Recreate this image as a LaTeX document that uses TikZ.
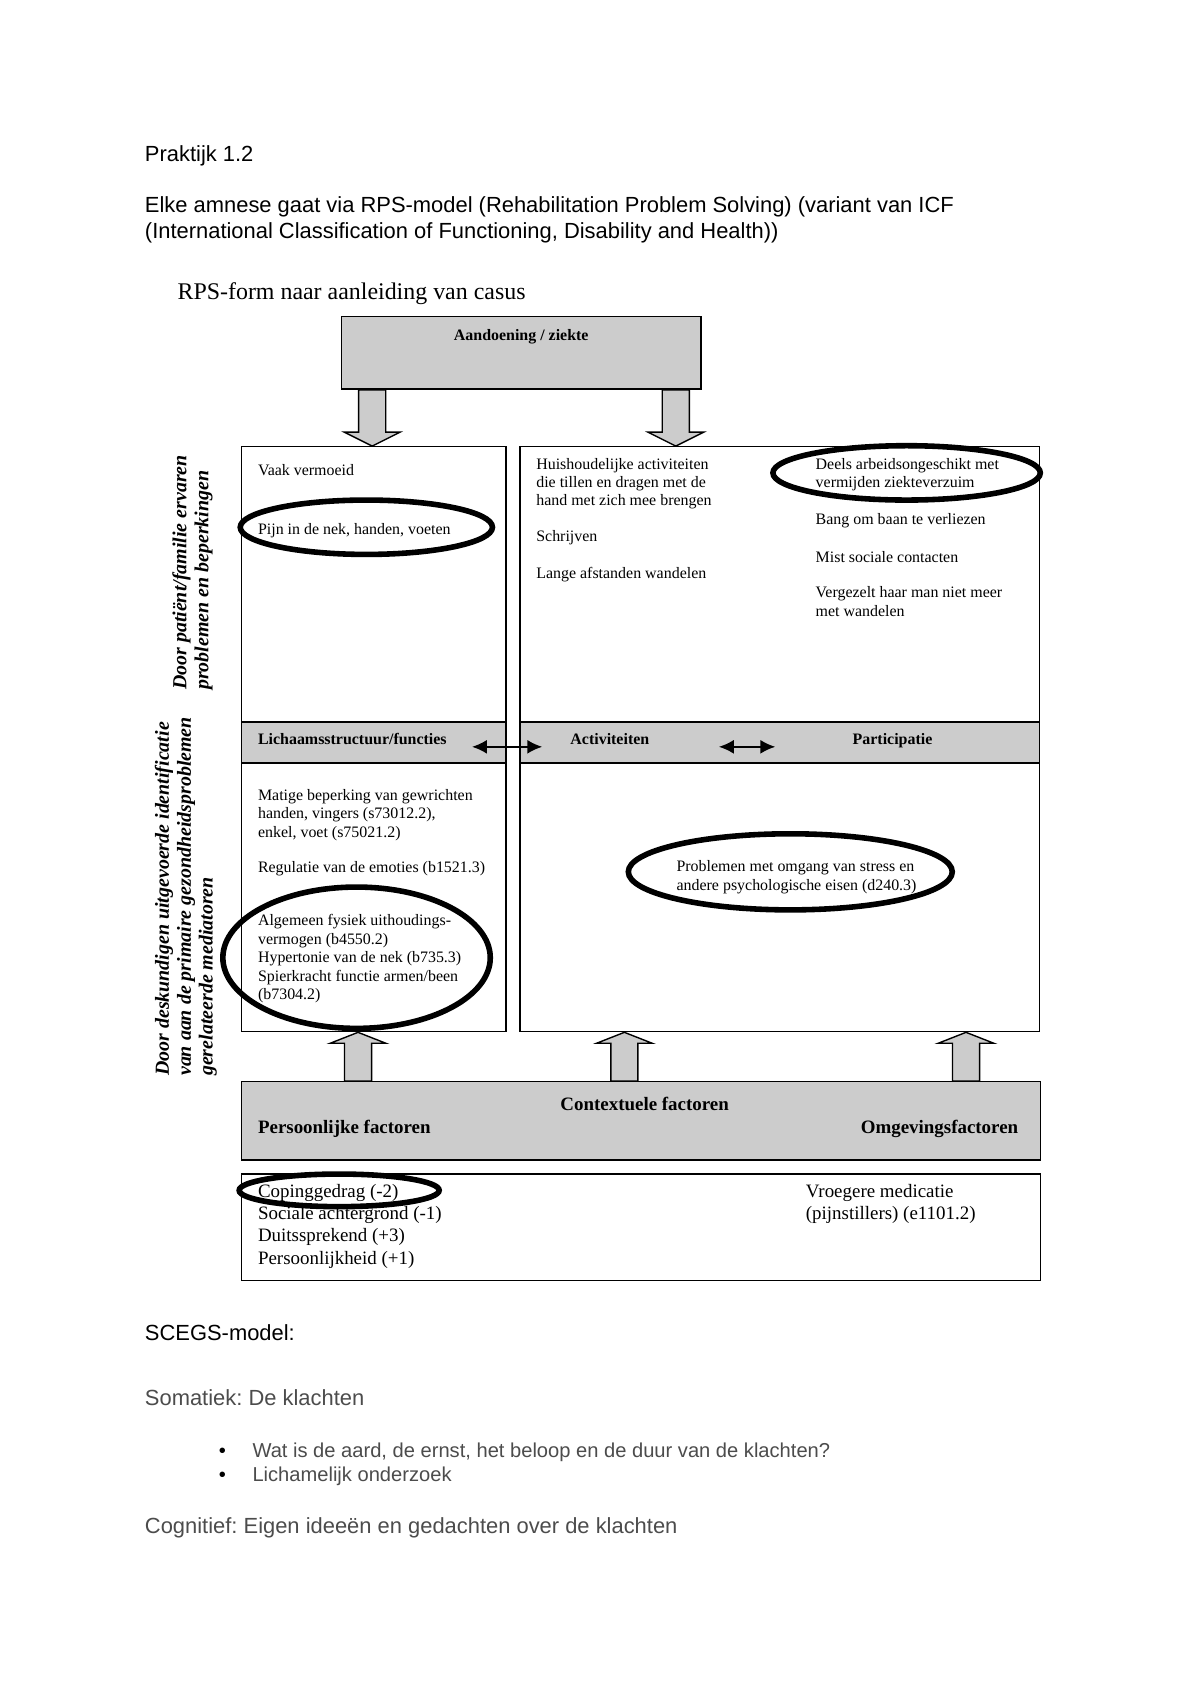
\documentclass[tikz,border=0pt]{standalone}
\usepackage{fontspec}
\setmainfont{Liberation Serif}
\newfontfamily\arialfont{Liberation Sans}
\usetikzlibrary{calc,fit,arrows.meta}
\definecolor{bodygray}{gray}{0.3}
\frenchspacing

\tikzset{
  box/.style={draw, line width=0.7pt, inner sep=0pt},
  greybox/.style={box, fill=black!20},
  ring/.style={line width=2.8pt},
  fatarrow/.style={draw, line width=0.7pt, fill=black!20},
  dblarrow/.style={line width=1pt, {Latex[length=7.5pt,width=7pt]}-{Latex[length=7.5pt,width=7pt]}},
  cell/.style={font=\fontsize{8}{9.24}\selectfont, align=left, anchor=west, inner sep=0pt},
  cellhead/.style={font=\fontsize{8}{9.24}\selectfont\bfseries, inner sep=0pt, anchor=base},
  ctx/.style={font=\fontsize{9.5}{11.25}\selectfont, align=left, anchor=west, inner sep=0pt},
  ctxhead/.style={font=\fontsize{9.5}{11.25}\selectfont\bfseries, inner sep=0pt, anchor=base},
  sidelabel/.style={font=\fontsize{10}{11}\selectfont\bfseries\itshape, align=left, rotate=90, anchor=west, inner sep=0pt},
  doc/.style={font=\arialfont\fontsize{11}{13}\selectfont, align=left, anchor=west, inner sep=0pt},
}

% fat block arrow from #2 (tail) to #3 (tip), #1 = head length
\newcommand\fatarrow[3][7pt]{%
  \path #2 coordinate (fat) #3 coordinate (fah);
  \coordinate (fab) at ($(fah)!#1!(fat)$);
  \draw[fatarrow] ($(fat)!6.8pt!90:(fah)$) -- ($(fab)!6.8pt!90:(fah)$)
    -- ($(fab)!14pt!90:(fah)$) -- (fah) -- ($(fab)!14pt!-90:(fah)$)
    -- ($(fab)!6.8pt!-90:(fah)$) -- ($(fat)!6.8pt!-90:(fah)$) -- cycle;}

\begin{document}
\begin{tikzpicture}[x=0.5435bp, y=-0.5435bp]
  \fill[white] (0,0) rectangle (1104,1562);
  \useasboundingbox (0,0) rectangle (1104,1562);

  % page text
  \node[doc] (kop) at (133,143) {Praktijk 1.2};
  \node[doc] (intro) at (133,202) {Elke amnese gaat via RPS-model (Rehabilitation Problem Solving) (variant van ICF\\(International Classification of Functioning, Disability and Health))};
  \node[anchor=west, inner sep=0pt, font=\fontsize{12}{14}\selectfont] (rpstitel) at (163,270) {RPS-form naar aanleiding van casus};

  % boxes
  \node[greybox, fit={(314,291) (645,358)}] (ziekte) {};
  \node[cellhead] (ziektetxt) at ($(ziekte.north)+(0,23)$) {Aandoening / ziekte};

  \node[box, fit={(222,411) (465.5,664)}] (lichtop) {};
  \node[greybox, fit={(222,664) (465.5,702)}] (lichband) {};
  \node[box, fit={(222,702) (465.5,949)}] (lichbot) {};
  \node[box, fit={(478.5,411) (956,664)}] (acttop) {};
  \node[greybox, fit={(478.5,664) (956,702)}] (actband) {};
  \node[box, fit={(478.5,702) (956,949)}] (actbot) {};

  \node[greybox, fit={(222,995) (957,1067)}] (context) {};
  \node[box, fit={(222,1080) (957,1178)}] (factoren) {};

  % side labels
  \node[sidelabel] (patient) at (177,635) {Door patiënt/familie ervaren\\problemen en beperkingen};
  \node[sidelabel] (deskundig) at (171,990) {Door deskundigen uitgevoerde identificatie\\van aan de primaire gezondheidsproblemen\\gerelateerde mediatoren};

  % upper cells
  \node[cell] (moe) at (237,432) {Vaak vermoeid};
  \node[cell] (pijn) at (237,488) {Pijn in de nek, handen, voeten};
  \node[cell] (huis) at (493,445) {Huishoudelijke activiteiten\\die tillen en dragen met de\\hand met zich mee brengen};
  \node[cell] (schrijf) at (493,495) {Schrijven};
  \node[cell] (wandel) at (493,529) {Lange afstanden wandelen};
  \node[cell] (arbeid) at (750,436.5) {Deels arbeidsongeschikt met\\vermijden ziekteverzuim};
  \node[cell] (baan) at (750,479) {Bang om baan te verliezen};
  \node[cell] (sociaal) at (750,512) {Mist sociale contacten};
  \node[cell] (man) at (750,553.5) {Vergezelt haar man niet meer\\met wandelen};

  % band
  \node[cellhead, anchor=base west] (lichaam) at (237,685) {Lichaamsstructuur/functies};
  \node[cellhead] (activ) at (561,685) {Activiteiten};
  \node[cellhead] (partic) at (821,685) {Participatie};

  % lower cells
  \node[cell] (gewricht) at (237,749.5) {Matige beperking van gewrichten\\handen, vingers (s73012.2),\\enkel, voet (s75021.2)};
  \node[cell] (emotie) at (237,799) {Regulatie van de emoties (b1521.3)};
  \node[cell] (fysiek) at (237,882) {Algemeen fysiek uithoudings-\\vermogen (b4550.2)\\Hypertonie van de nek (b735.3)\\Spierkracht functie armen/been\\(b7304.2)};
  \node[cell] (stress) at (622,807) {Problemen met omgang van stress en\\andere psychologische eisen (d240.3)};

  % contextual factors
  \node[ctxhead] (ctxtitel) at (593,1022) {Contextuele factoren};
  \node[ctxhead, anchor=base west] (persoon) at (237,1043) {Persoonlijke factoren};
  \node[ctxhead, anchor=base east] (omgeving) at (937,1043) {Omgevingsfactoren};
  \node[ctx] (persoonlijst) at (237,1128) {Copinggedrag (-2)\\Sociale achtergrond (-1)\\Duitssprekend (+3)\\Persoonlijkheid (+1)};
  \node[ctx] (medicatie) at (741,1107.5) {Vroegere medicatie\\(pijnstillers) (e1101.2)};

  % circled items
  \draw[ring] (337,485) ellipse [x radius=116, y radius=25];
  \draw[ring] (834,435) ellipse [x radius=123, y radius=25];
  \draw[ring] (328,881) ellipse [x radius=123, y radius=65];
  \draw[ring] (727,802) ellipse [x radius=149, y radius=35];
  \draw[ring] (312,1095) ellipse [x radius=92, y radius=15];

  % block arrows
  \coordinate (dl) at ($(ziekte.south west)+(29,0)$);
  \coordinate (dr) at ($(ziekte.south east)+(-24,0)$);
  \fatarrow{(dl)}{(dl |- lichtop.north)}
  \fatarrow{(dr)}{(dr |- acttop.north)}
  \coordinate (ul) at ($(context.north west)+(108,0)$);
  \coordinate (um) at ($(context.north west)+(353,0)$);
  \coordinate (ur) at ($(context.north east)+(-69,0)$);
  \fatarrow[5.5pt]{(ul)}{(ul |- lichbot.south)}
  \fatarrow[5.5pt]{(um)}{(um |- actbot.south)}
  \fatarrow[5.5pt]{(ur)}{(ur |- actbot.south)}

  % interaction arrows
  \coordinate (ba1) at ($(lichband.east)+(-32,4)$);
  \coordinate (ba2) at ($(actband.west)+(21,4)$);
  \coordinate (ba3) at ($(actband.center)+(-56,4)$);
  \coordinate (ba4) at ($(actband.center)+(-4,4)$);
  \draw[dblarrow] (ba1) -- (ba2);
  \draw[dblarrow] (ba3) -- (ba4);

  % SCEGS
  \node[doc] (scegs) at (133,1226) {SCEGS-model:};
  \node[doc, text=bodygray] (somatiek) at (133,1286) {Somatiek: De klachten};
  \node[doc, text=bodygray, font=\arialfont\fontsize{10.1}{12}\selectfont] (vragen) at (201,1347)
    {\makebox[16.8bp][l]{\textcolor{black}{\textbullet}}Wat is de aard, de ernst, het beloop en de duur van de klachten?\\
     \makebox[16.8bp][l]{\textcolor{black}{\textbullet}}Lichamelijk onderzoek};
  \node[doc, text=bodygray] (cognitief) at (133,1405) {Cognitief: Eigen ideeën en gedachten over de klachten};
\end{tikzpicture}
\end{document}
